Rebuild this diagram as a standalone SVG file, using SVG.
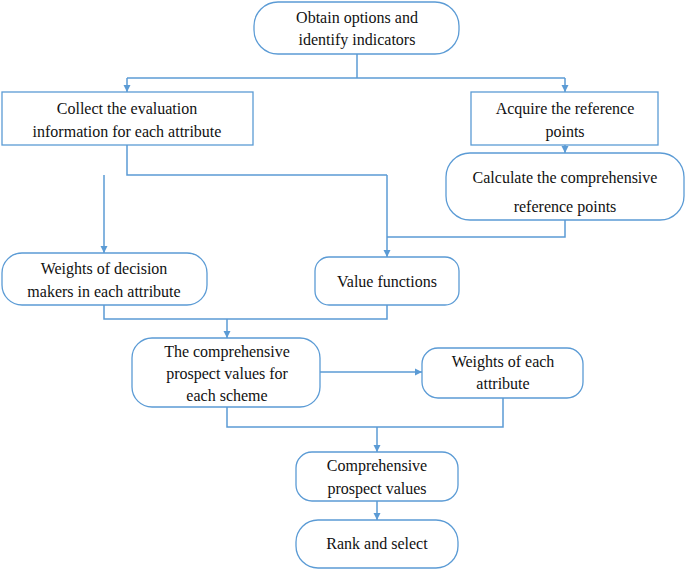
<svg xmlns="http://www.w3.org/2000/svg" width="685" height="570" viewBox="0 0 685 570">
<style>
.n{fill:#fff;stroke:#5b9bd5;stroke-width:1.3}
.c{fill:none;stroke:#5b9bd5;stroke-width:1.5}
text{font-family:"Liberation Serif",serif;font-size:16px;fill:#111;text-anchor:middle}
</style>
<defs><marker id="a" viewBox="0 0 10 10" refX="10" refY="5" markerWidth="5" markerHeight="5" orient="auto"><path d="M0,0L10,5L0,10z" fill="#5b9bd5"/></marker></defs>
<rect width="685" height="570" fill="#fff"/>
<g id="connectors">
<path class="c" d="M357,54V78"/><path class="c" d="M127,78H565"/>
<path class="c" d="M127,78V92" marker-end="url(#a)"/><path class="c" d="M565,78V92" marker-end="url(#a)"/>
<path class="c" d="M127,145V175H387"/><path class="c" d="M104,175V253" marker-end="url(#a)"/><path class="c" d="M387,175V257" marker-end="url(#a)"/>
<path class="c" d="M565,145V153" marker-end="url(#a)"/>
<path class="c" d="M565,220V237H387"/>
<path class="c" d="M104,305V319H387V305"/><path class="c" d="M227,319V338" marker-end="url(#a)"/>
<path class="c" d="M320,372H422" marker-end="url(#a)"/>
<path class="c" d="M227,407V427H503V398"/><path class="c" d="M377,427V452" marker-end="url(#a)"/>
<path class="c" d="M377,501V520" marker-end="url(#a)"/>
</g>
<g id="n1"><rect class="n" x="254" y="2" width="205" height="52" rx="24"/><text x="357" y="23">Obtain options and</text><text x="357" y="45">identify indicators</text></g>
<g id="n2"><rect class="n" x="2" y="92" width="251" height="53"/><text x="127" y="114">Collect the evaluation</text><text x="127" y="137">information for each attribute</text></g>
<g id="n3"><rect class="n" x="471" y="92" width="187" height="53"/><text x="565" y="114">Acquire the reference</text><text x="565" y="137">points</text></g>
<g id="n4"><rect class="n" x="446" y="153" width="238" height="67" rx="24"/><text x="565" y="183">Calculate the comprehensive</text><text x="565" y="212">reference points</text></g>
<g id="n5"><rect class="n" x="2" y="253" width="205" height="52" rx="20"/><text x="104" y="274">Weights of decision</text><text x="104" y="297">makers in each attribute</text></g>
<g id="n6"><rect class="n" x="315" y="257" width="144" height="48" rx="14"/><text x="387" y="287">Value functions</text></g>
<g id="n7"><rect class="n" x="132" y="338" width="188" height="69" rx="20"/><text x="227" y="357">The comprehensive</text><text x="227" y="379">prospect values for</text><text x="227" y="401">each scheme</text></g>
<g id="n8"><rect class="n" x="422" y="348" width="161" height="50" rx="16"/><text x="503" y="367">Weights  of each</text><text x="503" y="389">attribute</text></g>
<g id="n9"><rect class="n" x="296" y="452" width="162" height="49" rx="16"/><text x="377" y="471">Comprehensive</text><text x="377" y="494">prospect values</text></g>
<g id="n10"><rect class="n" x="296" y="520" width="162" height="48" rx="22"/><text x="377" y="549">Rank and select</text></g>
</svg>
